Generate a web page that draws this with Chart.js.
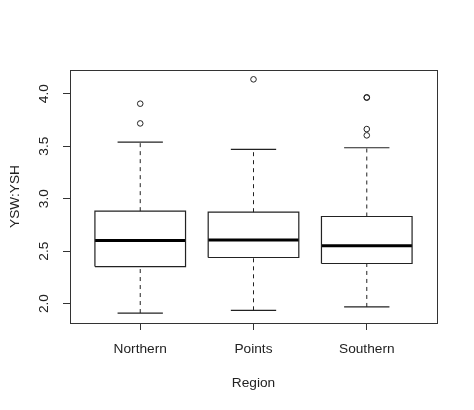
<!DOCTYPE html>
<html>
<head>
<meta charset="utf-8">
<script src="https://cdn.jsdelivr.net/npm/chart.js@4/dist/chart.umd.min.js"></script>
<style>
  html, body { margin: 0; padding: 0; background: #fff; }
  #c { display: block; }
</style>
</head>
<body>
<canvas id="c" width="474" height="410"></canvas>
<script>
// ---- data ----
const categories  = ['Northern', 'Points', 'Southern'];
const whiskerLow  = [1.910, 1.936, 1.968];
const q1          = [2.353, 2.439, 2.382];
const median      = [2.601, 2.607, 2.550];
const q3          = [2.881, 2.871, 2.830];
const whiskerHigh = [3.539, 3.469, 3.485];
const outliers    = [[3.717, 3.905], [4.137], [3.603, 3.663, 3.962, 3.966]];
const yTicks      = [2.0, 2.5, 3.0, 3.5, 4.0];
const xTitle = 'Region';
const yTitle = 'YSW:YSH';

const BOX_HALF = 0.4, CAP_HALF = 0.2;
const ink = '#222';

const datasets = [];
categories.forEach((name, i) => {
  const x = i + 1;
  const lineBase = { showLine: true, pointRadius: 0, fill: false, tension: 0, borderColor: ink, borderCapStyle: 'butt' };
  // box
  datasets.push({ ...lineBase, borderWidth: 1.2, data: [
    {x: x - BOX_HALF, y: q1[i]}, {x: x + BOX_HALF, y: q1[i]},
    {x: x + BOX_HALF, y: q3[i]}, {x: x - BOX_HALF, y: q3[i]},
    {x: x - BOX_HALF, y: q1[i]}
  ]});
  // median
  datasets.push({ ...lineBase, borderWidth: 3, borderColor: '#000', data: [
    {x: x - BOX_HALF, y: median[i]}, {x: x + BOX_HALF, y: median[i]}
  ]});
  // whiskers (dashed)
  datasets.push({ ...lineBase, borderWidth: 1, borderDash: [4, 4], data: [
    {x: x, y: whiskerLow[i]}, {x: x, y: q1[i]}
  ]});
  datasets.push({ ...lineBase, borderWidth: 1, borderDash: [4, 4], data: [
    {x: x, y: q3[i]}, {x: x, y: whiskerHigh[i]}
  ]});
  // caps
  datasets.push({ ...lineBase, borderWidth: 1.2, data: [
    {x: x - CAP_HALF, y: whiskerLow[i]}, {x: x + CAP_HALF, y: whiskerLow[i]}
  ]});
  datasets.push({ ...lineBase, borderWidth: 1.2, data: [
    {x: x - CAP_HALF, y: whiskerHigh[i]}, {x: x + CAP_HALF, y: whiskerHigh[i]}
  ]});
  // outliers
  datasets.push({ showLine: false, pointStyle: 'circle', pointRadius: 2.8,
    pointBorderWidth: 1, pointBorderColor: ink, pointBackgroundColor: 'rgba(0,0,0,0)',
    data: outliers[i].map(v => ({x: x, y: v})) });
});

const framePlugin = {
  id: 'frame',
  afterDatasetsDraw(chart) {
    const {ctx, chartArea: a} = chart;
    ctx.save();
    ctx.strokeStyle = '#333';
    ctx.lineWidth = 1;
    ctx.strokeRect(Math.round(a.left) + 0.5, Math.round(a.top) + 0.5,
                   Math.round(a.right - a.left), Math.round(a.bottom - a.top));
    ctx.restore();
  }
};

const font = { family: "'Liberation Sans', Arial, sans-serif", size: 13.7 };

new Chart(document.getElementById('c'), {
  type: 'scatter',
  data: { datasets },
  plugins: [framePlugin],
  options: {
    responsive: false,
    animation: false,
    devicePixelRatio: 1,
    layout: { padding: { top: 70, right: 37, left: 0, bottom: 0 } },
    plugins: { legend: { display: false }, tooltip: { enabled: false } },
    scales: {
      x: {
        type: 'linear', min: 0.38, max: 3.62,
        afterBuildTicks: s => { s.ticks = categories.map((c, i) => ({ value: i + 1 })); },
        afterFit: s => { s.height = 87; },
        border: { display: false },
        grid: { drawOnChartArea: false, drawTicks: true, tickLength: 7, color: '#333', tickWidth: 1 },
        ticks: { color: ink, font, padding: 11, maxRotation: 0, autoSkip: false,
          callback: v => categories[Math.round(v) - 1] },
        title: { display: true, text: xTitle, color: ink, font, padding: { top: 0, bottom: 19 } }
      },
      y: {
        type: 'linear', min: 1.815, max: 4.226,
        afterBuildTicks: s => { s.ticks = yTicks.map(v => ({ value: v })); },
        afterFit: s => { s.width = 70; },
        border: { display: false },
        grid: { drawOnChartArea: false, drawTicks: true, tickLength: 7, color: '#333', tickWidth: 1 },
        ticks: { color: ink, font, padding: 9, minRotation: 90, maxRotation: 90, crossAlign: 'center',
          callback: v => Number(v).toFixed(1) },
        title: { display: true, text: yTitle, color: ink, font, padding: { top: 7, bottom: 0 } }
      }
    }
  }
});
</script>
</body>
</html>
